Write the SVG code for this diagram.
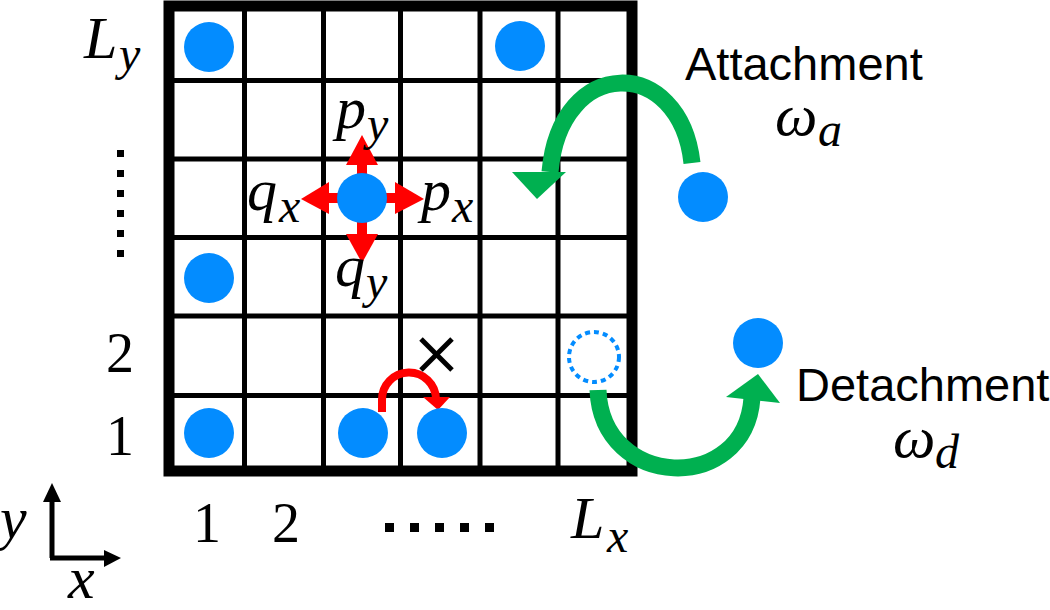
<svg xmlns="http://www.w3.org/2000/svg" width="1050" height="610" viewBox="0 0 1050 610">
<style>
.p{fill:#038cff}
.m{font-family:"Liberation Serif",serif;font-style:italic;font-size:60px;fill:#000}
.s{font-family:"Liberation Serif",serif;font-style:italic;font-size:48px;fill:#000}
.n{font-family:"Liberation Serif",serif;font-size:56px;fill:#000;text-anchor:middle}
.t{font-family:"Liberation Sans",Arial,sans-serif;font-size:47px;fill:#000}
.g{fill:none;stroke:#00b050;stroke-width:17}
.gh{fill:#00b050}
</style>
<rect width="1050" height="610" fill="#fff"/>
<g id="grid" stroke="#000" fill="none">
<g stroke-width="5">
<line x1="244.5" y1="6" x2="244.5" y2="471"/><line x1="323.5" y1="6" x2="323.5" y2="471"/>
<line x1="400.5" y1="6" x2="400.5" y2="471"/><line x1="480" y1="6" x2="480" y2="471"/>
<line x1="558" y1="6" x2="558" y2="471"/>
<line x1="169" y1="80.5" x2="632" y2="80.5"/><line x1="169" y1="159" x2="632" y2="159"/>
<line x1="169" y1="237.5" x2="632" y2="237.5"/><line x1="169" y1="316" x2="632" y2="316"/>
<line x1="169" y1="395.5" x2="632" y2="395.5"/>
</g>
<rect x="169" y="6" width="463" height="465" stroke-width="11"/>
</g>
<g id="connectors">
<g fill="#f00">
<rect x="357" y="160" width="10" height="78"/><rect x="324" y="193" width="76" height="10"/>
<polygon points="346,165 378,165 362,135"/><polygon points="346,234 378,234 362,263"/>
<polygon points="329,182 329,214 301,199"/><polygon points="395,182 395,214 424,199"/>
</g>
<path d="M382,412 L382,400 A27,27 0 0 1 436,399" fill="none" stroke="#f00" stroke-width="8"/>
<polygon points="423,397 450,397 438,410" fill="#f00"/>
<path class="g" d="M692,163 C680,55 560,55 550,172"/>
<polygon class="gh" points="512,172 566,172 537,199"/>
<path class="g" d="M598,390 C602,490 745,495 752,398"/>
<polygon class="gh" points="726,397 780,403 758,374"/>
<g stroke="#000" stroke-width="5">
<line x1="421" y1="339" x2="452" y2="370"/><line x1="452" y1="339" x2="421" y2="370"/>
<line x1="52" y1="498" x2="52" y2="558"/><line x1="50" y1="558" x2="108" y2="558"/>
</g>
<polygon points="43,502 61,502 52,483"/><polygon points="104,550 104,567 121,558"/>
</g>
<g id="particles">
<circle class="p" cx="209" cy="47" r="25"/><circle class="p" cx="520" cy="46" r="25"/>
<circle class="p" cx="362" cy="198" r="25"/><circle class="p" cx="209" cy="278" r="25"/>
<circle class="p" cx="209" cy="433" r="25"/><circle class="p" cx="363" cy="433" r="25"/>
<circle class="p" cx="442" cy="433" r="25"/>
<circle cx="594" cy="357" r="25" fill="none" stroke="#038cff" stroke-width="4" stroke-dasharray="5 4"/>
<circle class="p" cx="703" cy="197" r="25"/><circle class="p" cx="758" cy="343" r="25"/>
</g>
<g id="labels">
<text class="m" x="336" y="128">p</text><text class="s" x="367" y="140">y</text>
<text class="m" x="247" y="210">q</text><text class="s" x="279" y="222">x</text>
<text class="m" x="421" y="210">p</text><text class="s" x="452" y="222">x</text>
<text class="m" x="335" y="286">q</text><text class="s" x="366" y="298">y</text>
<text class="m" x="84" y="58">L</text><text class="s" x="119" y="70">y</text>
<text class="n" x="120" y="372">2</text><text class="n" x="120" y="455">1</text>
<text class="n" x="207" y="542">1</text><text class="n" x="286" y="542">2</text>
<text class="m" x="571" y="538">L</text><text class="s" x="607" y="552">x</text>
<text class="m" x="0" y="538">y</text><text class="m" x="68" y="598">x</text>
<text class="t" x="685" y="80">Attachment</text>
<text class="m" x="775" y="135">ω</text><text class="s" x="818" y="146">a</text>
<text class="t" x="796" y="401">Detachment</text>
<text class="m" x="893" y="457">ω</text><text class="s" x="935" y="468">d</text>
</g>
<g id="dots" fill="#000">
<rect x="117" y="150" width="7" height="7"/><rect x="117" y="170" width="7" height="7"/>
<rect x="117" y="190" width="7" height="7"/><rect x="117" y="210" width="7" height="7"/>
<rect x="117" y="230" width="7" height="7"/><rect x="117" y="250" width="7" height="7"/>
<rect x="385" y="523" width="9" height="9"/><rect x="410" y="523" width="9" height="9"/>
<rect x="435" y="523" width="9" height="9"/><rect x="460" y="523" width="9" height="9"/>
<rect x="485" y="523" width="9" height="9"/>
</g>
</svg>
